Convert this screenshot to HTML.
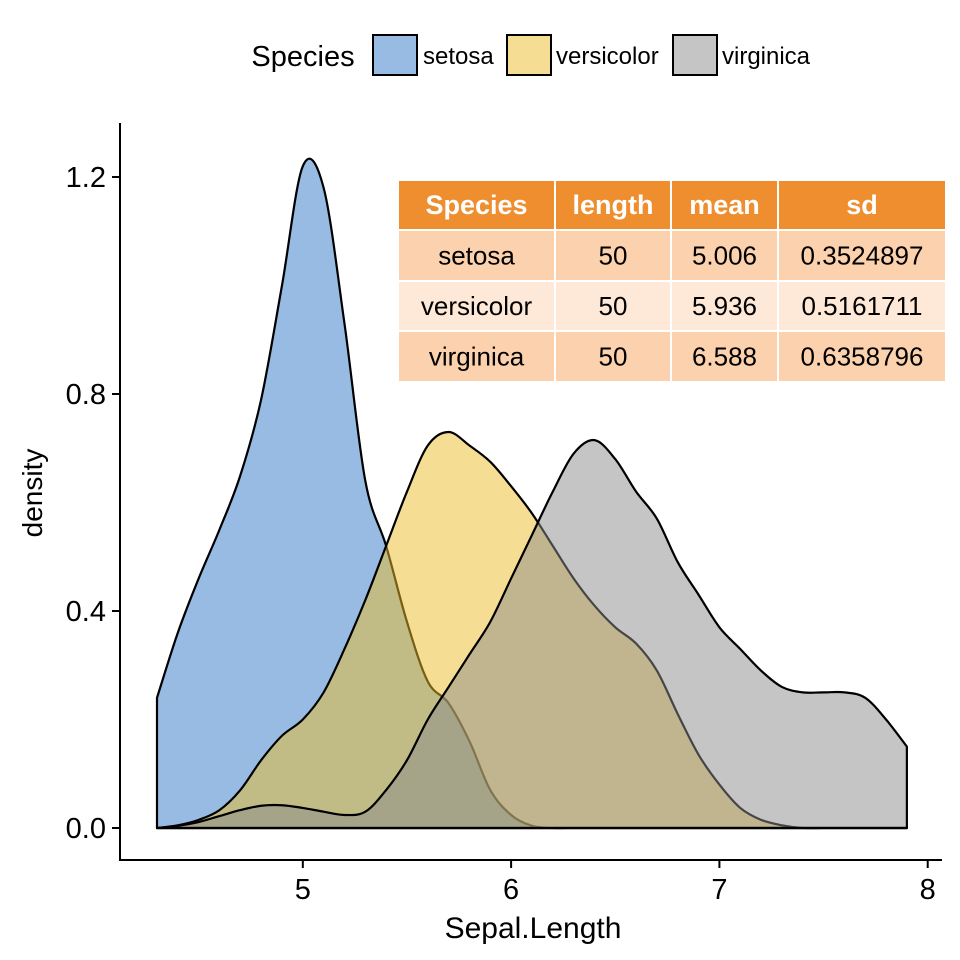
<!DOCTYPE html>
<html><head><meta charset="utf-8"><style>
body{margin:0;background:#fff;}
svg{display:block;font-family:"Liberation Sans",Arial,sans-serif;}
</style></head><body>
<svg id="chart" width="960" height="960">
<g id="legend">
<text x="303" y="66" font-size="29" text-anchor="middle">Species</text>
<rect x="373" y="35" width="44" height="40" fill="#3077C6" fill-opacity="0.5" stroke="#000" stroke-width="2"/>
<text x="423" y="64" font-size="24">setosa</text>
<rect x="507" y="35" width="44" height="40" fill="#EBBD28" fill-opacity="0.5" stroke="#000" stroke-width="2"/>
<text x="556" y="64" font-size="24">versicolor</text>
<rect x="673" y="35" width="44" height="40" fill="#8B8B8B" fill-opacity="0.5" stroke="#000" stroke-width="2"/>
<text x="722" y="64" font-size="24">virginica</text>
</g>
<g id="curves"></g>
<g id="axes"></g>
<g id="table"></g>
<text x="533" y="938" font-size="30" text-anchor="middle">Sepal.Length</text>
<text transform="translate(42,493) rotate(-90)" font-size="28" text-anchor="middle">density</text>
</svg>
<script>
const xGrid=[4.3,4.4,4.5,4.6,4.7,4.8,4.9,5.0,5.1,5.2,5.3,5.4,5.5,5.6,5.7,5.8,5.9,6.0,6.1,6.2,6.3,6.4,6.5,6.6,6.7,6.8,6.9,7.0,7.1,7.2,7.3,7.4,7.5,7.6,7.7,7.8,7.9];
const setosaDensity=[0.24,0.36,0.46,0.55,0.65,0.79,1.0,1.22,1.18,0.93,0.64,0.52,0.38,0.27,0.23,0.16,0.07,0.024,0.004,0,0,0,0,0,0,0,0,0,0,0,0,0,0,0,0,0,0];
const versicolorDensity=[0,0.005,0.015,0.033,0.07,0.125,0.17,0.2,0.25,0.33,0.42,0.52,0.62,0.705,0.73,0.705,0.675,0.63,0.58,0.52,0.46,0.41,0.37,0.34,0.29,0.21,0.135,0.08,0.037,0.015,0.005,0,0,0,0,0,0];
const virginicaDensity=[0,0.004,0.011,0.022,0.033,0.041,0.042,0.037,0.03,0.024,0.03,0.07,0.125,0.2,0.26,0.32,0.38,0.46,0.54,0.62,0.69,0.715,0.68,0.62,0.57,0.49,0.43,0.37,0.33,0.29,0.26,0.25,0.25,0.25,0.24,0.2,0.15];
const xTicks=[5,6,7,8];
const yTicks=[0,0.4,0.8,1.2];
const yTickLabels=["0.0","0.4","0.8","1.2"];
const tableHeader=["Species","length","mean","sd"];
const tableRows=[["setosa","50","5.006","0.3524897"],["versicolor","50","5.936","0.5161711"],["virginica","50","6.588","0.6358796"]];

const NS="http://www.w3.org/2000/svg";
function xs(v){return 157+(v-4.3)*208.3;}
function ys(v){return 828-v*542.5;}
function mk(tag,attrs,parent){const e=document.createElementNS(NS,tag);for(const k in attrs)e.setAttribute(k,attrs[k]);parent.appendChild(e);return e;}
function smooth(pts){
  let d="M"+pts[0][0]+","+pts[0][1];
  for(let i=0;i<pts.length-1;i++){
    const p0=pts[Math.max(0,i-1)],p1=pts[i],p2=pts[i+1],p3=pts[Math.min(pts.length-1,i+2)];
    const c1x=p1[0]+(p2[0]-p0[0])/6,c1y=p1[1]+(p2[1]-p0[1])/6;
    const c2x=p2[0]-(p3[0]-p1[0])/6,c2y=p2[1]-(p3[1]-p1[1])/6;
    d+=" C"+c1x+","+c1y+" "+c2x+","+c2y+" "+p2[0]+","+p2[1];
  }
  return d;
}
const curves=document.getElementById('curves');
const series=[["setosa",setosaDensity,"#3077C6"],["versicolor",versicolorDensity,"#EBBD28"],["virginica",virginicaDensity,"#8B8B8B"]];
series.forEach(s=>{
  const pts=xGrid.map((x,i)=>[xs(x),ys(s[1][i])]);
  const x0=xs(xGrid[0]),x1=xs(xGrid[xGrid.length-1]);
  const d="M"+x0+","+ys(0)+" L"+smooth(pts).slice(1)+" L"+x1+","+ys(0)+" Z";
  const p=mk('path',{d:d,fill:s[2],'fill-opacity':0.5,stroke:'#000','stroke-width':2.2,'stroke-linejoin':'round'},curves);
  
  
});
const axes=document.getElementById('axes');
const yl=mk('line',{x1:120,y1:123,x2:120,y2:860,stroke:'#000','stroke-width':2},axes);


const xl=mk('line',{x1:119,y1:860,x2:942,y2:860,stroke:'#000','stroke-width':2},axes);


yTicks.forEach((v,i)=>{
  mk('line',{x1:112,x2:120,y1:ys(v),y2:ys(v),stroke:'#000','stroke-width':2},axes);
  const t=mk('text',{x:106,y:ys(v)+10,'font-size':29,'text-anchor':'end'},axes);
  t.textContent=yTickLabels[i];
  
  
});
xTicks.forEach(v=>{
  mk('line',{x1:xs(v),x2:xs(v),y1:860,y2:868,stroke:'#000','stroke-width':2},axes);
  const t=mk('text',{x:xs(v),y:899,'font-size':29,'text-anchor':'middle'},axes);
  t.textContent=String(v);
  
  
});
const tbl=document.getElementById('table');
const colX=[398,555,671,778,946];
const rowY=[180,230,281,331,382];
const rowFill=["#EE8E2F","#FCD1AD","#FEE8D8","#FCD1AD"];
[tableHeader].concat(tableRows).forEach((row,r)=>{
  row.forEach((cell,c)=>{
    mk('rect',{x:colX[c],y:rowY[r],width:colX[c+1]-colX[c],height:rowY[r+1]-rowY[r],fill:rowFill[r],stroke:'#fff','stroke-width':2},tbl);
    const t=mk('text',{x:(colX[c]+colX[c+1])/2,y:(rowY[r]+rowY[r+1])/2+9,'font-size':r===0?27:26,'text-anchor':'middle',fill:r===0?'#fff':'#000','font-weight':r===0?'bold':'normal'},tbl);
    t.textContent=cell;
    
    
  });
});
</script>
</body></html>
